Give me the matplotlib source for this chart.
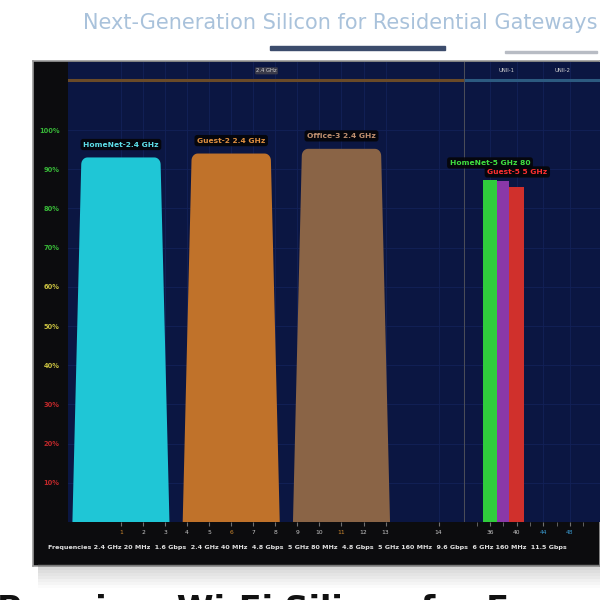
import numpy as np
import matplotlib
matplotlib.use("Agg")
import matplotlib.pyplot as plt
from matplotlib.patches import Polygon, Rectangle

# ---- data ----
pct_ticks = [10, 20, 30, 40, 50, 60, 70, 80, 90, 100]
pct_colors = ["#c0282a"] * 3 + ["#c8c040"] * 3 + ["#38b838"] * 4

ch24 = [1, 2, 3, 4, 5, 6, 7, 8, 9, 10, 11, 12, 13, 14]
freq24 = [2412, 2417, 2422, 2427, 2432, 2437, 2442, 2447, 2452, 2457, 2462, 2467, 2472, 2484]
ch24_colors = ["#d08a30" if c in (1, 6, 11) else "#c8c8c8" for c in ch24]

ap24_names = ["HomeNet-2.4 GHz", "Guest-2 2.4 GHz", "Office-3 2.4 GHz"]
ap24_freq = [2412, 2437, 2462]
ap24_level = [93.0, 94.0, 95.2]
ap24_colors = ["#1fc6d6", "#c0722a", "#8a6446"]
ap24_text = ["#5ee0ea", "#e09040", "#c09070"]

ch5 = [36, 40, 44, 48]
ch5_colors = ["#c8c8c8", "#c8c8c8", "#3a9ad0", "#3a9ad0"]
ap5_names = ["HomeNet-5 GHz 80", None, "Guest-5 5 GHz"]
ap5_ch = [36, 38, 40]
ap5_width = [2.2, 1.8, 2.2]
ap5_level = [87.2, 87.0, 85.5]
ap5_colors = ["#30cc3c", "#8a38a8", "#d0302c"]
ap5_text = ["#40e040", None, "#ff3030"]
ap5_label_ch = [36.0, None, 40.1]
ap5_label_lv = [91.6, None, 89.3]

NAVY = "#0b1642"
PANEL = "#0c0c0e"
W = H = 600.0


def fr(x0, y0, x1, y1):
    # pixel box -> figure fraction [left, bottom, width, height]
    return [x0 / W, 1 - y1 / H, (x1 - x0) / W, (y1 - y0) / H]


def channel_shape(c, h, half_top=9.0, half_bot=11.0, rx=1.4, ry=1.8, n=8):
    t = np.linspace(0, np.pi / 2, n)
    left_arc = np.c_[c - half_top + rx * (1 - np.cos(t)), h - ry + ry * np.sin(t)]
    right_arc = np.c_[c + half_top - rx * (1 - np.cos(t[::-1])), h - ry + ry * np.sin(t[::-1])]
    return np.vstack([[c - half_bot, 0], left_arc, right_arc, [c + half_bot, 0]])


fig = plt.figure(figsize=(6, 6), dpi=100)
fig.patch.set_facecolor("white")

# title and tab underline
fig.text(83 / W, 1 - 23 / H, "Next-Generation Silicon for Residential Gateways",
         fontsize=15, color="#a9c2db", va="center", ha="left")
fig.patches.append(Rectangle((270 / W, 1 - 50 / H), 175 / W, 3.5 / H,
                             transform=fig.transFigure, color="#3c4c6c"))
fig.patches.append(Rectangle((505 / W, 1 - 53 / H), 92 / W, 1.8 / H,
                             transform=fig.transFigure, color="#b8bcc4"))

# drop shadow under the screenshot
for i, a in enumerate(np.linspace(0.28, 0.02, 8)):
    fig.patches.append(Rectangle((38 / W, 1 - (567 + 3 * i) / H), 562 / W, 3 / H,
                                 transform=fig.transFigure, color="#606060",
                                 alpha=a, lw=0))

# black screenshot panel
panel = fig.add_axes(fr(33, 61, 600, 566))
panel.set_facecolor(PANEL)
panel.set_xticks([])
panel.set_yticks([])
for s in panel.spines.values():
    s.set_color("#9a9a9a")
    s.set_linewidth(1.2)

ymax = 117.35
label_box = dict(boxstyle="round,pad=0.35", fc="#050508", ec="none", alpha=0.9)

# 2.4 GHz band
ax = fig.add_axes(fr(68, 62, 465, 522))
ax.set_facecolor(NAVY)
ax.set_xlim(2400, 2490)
ax.set_ylim(0, ymax)
ax.set_yticks(pct_ticks)
ax.set_yticklabels([f"{p}%" for p in pct_ticks], fontsize=4.8, fontweight="bold")
for lab, col in zip(ax.get_yticklabels(), pct_colors):
    lab.set_color(col)
ax.set_xticks(freq24)
ax.set_xticklabels([str(c) for c in ch24], fontsize=4.3)
for lab, col in zip(ax.get_xticklabels(), ch24_colors):
    lab.set_color(col)
ax.tick_params(axis="y", length=0, pad=6)
ax.tick_params(axis="x", length=3, color="#707070", pad=3)
ax.grid(True, color="#132158", lw=0.6)
ax.set_axisbelow(True)
for s in ax.spines.values():
    s.set_visible(False)
ax.axhline(112.8, color="#6a4a28", lw=2.2)
ax.axvline(2490, color="#4a4c58", lw=2.2)
ax.text(2445, 115.1, "2.4 GHz", fontsize=3.8, color="#d0d0d0", ha="center",
        va="center", bbox=dict(boxstyle="round,pad=0.2", fc="#3a3a4a", ec="none"))

for f, lv, col, name, tc in zip(ap24_freq, ap24_level, ap24_colors, ap24_names, ap24_text):
    ax.add_patch(Polygon(channel_shape(f, lv), closed=True, fc=col, ec="none", zorder=3))
    ax.text(f, lv + 3.3, name, fontsize=5.4, fontweight="bold", color=tc, ha="center",
            va="center", zorder=5, bbox=label_box)

# 5 GHz band
ax5 = fig.add_axes(fr(465, 62, 600, 522))
ax5.set_facecolor(NAVY)
ax5.set_xlim(32.25, 52.5)
ax5.set_ylim(0, ymax)
ax5.set_yticks(pct_ticks)
ax5.set_yticklabels([])
ax5.tick_params(axis="y", length=0)
ax5.set_xticks(ch5)
ax5.set_xticklabels([str(c) for c in ch5], fontsize=4.3)
ax5.set_xticks([34, 38, 42, 46, 50], minor=True)
for lab, col in zip(ax5.get_xticklabels(), ch5_colors):
    lab.set_color(col)
ax5.tick_params(axis="x", which="both", length=3, color="#707070", pad=3)
ax5.grid(True, color="#132158", lw=0.6)
ax5.set_axisbelow(True)
for s in ax5.spines.values():
    s.set_visible(False)
ax5.axhline(112.8, color="#2c5a80", lw=2.2)
ax5.text(38.5, 115.1, "UNII-1", fontsize=3.8, color="#d0d0d0", ha="center", va="center")
ax5.text(46.9, 115.1, "UNII-2", fontsize=3.8, color="#d0d0d0", ha="center", va="center")

ax5.bar(ap5_ch, ap5_level, width=ap5_width, color=ap5_colors, zorder=3)
for name, tc, lc, ll in zip(ap5_names, ap5_text, ap5_label_ch, ap5_label_lv):
    if name is None:
        continue
    ax5.text(lc, ll, name, fontsize=5.4, fontweight="bold", color=tc,
             ha="center", va="center", zorder=5, clip_on=False, bbox=label_box)

# footer line inside the screenshot
fig.text(48 / W, 1 - 548 / H,
         "Frequencies 2.4 GHz 20 MHz  1.6 Gbps  2.4 GHz 40 MHz  4.8 Gbps  5 GHz 80 MHz  "
         "4.8 Gbps  5 GHz 160 MHz  9.6 Gbps  6 GHz 160 MHz  11.5 Gbps",
         fontsize=4.6, color="#e0e0e0", fontweight="bold", ha="left", va="center")

# big heading that is cut at the bottom edge
fig.text(-0.005, 1 - 594 / H, "Premium Wi-Fi Silicon for Every Tier",
         fontsize=24, fontweight="bold", color="#111111", ha="left", va="top")

fig.savefig("out.png", dpi=100, facecolor="white")
